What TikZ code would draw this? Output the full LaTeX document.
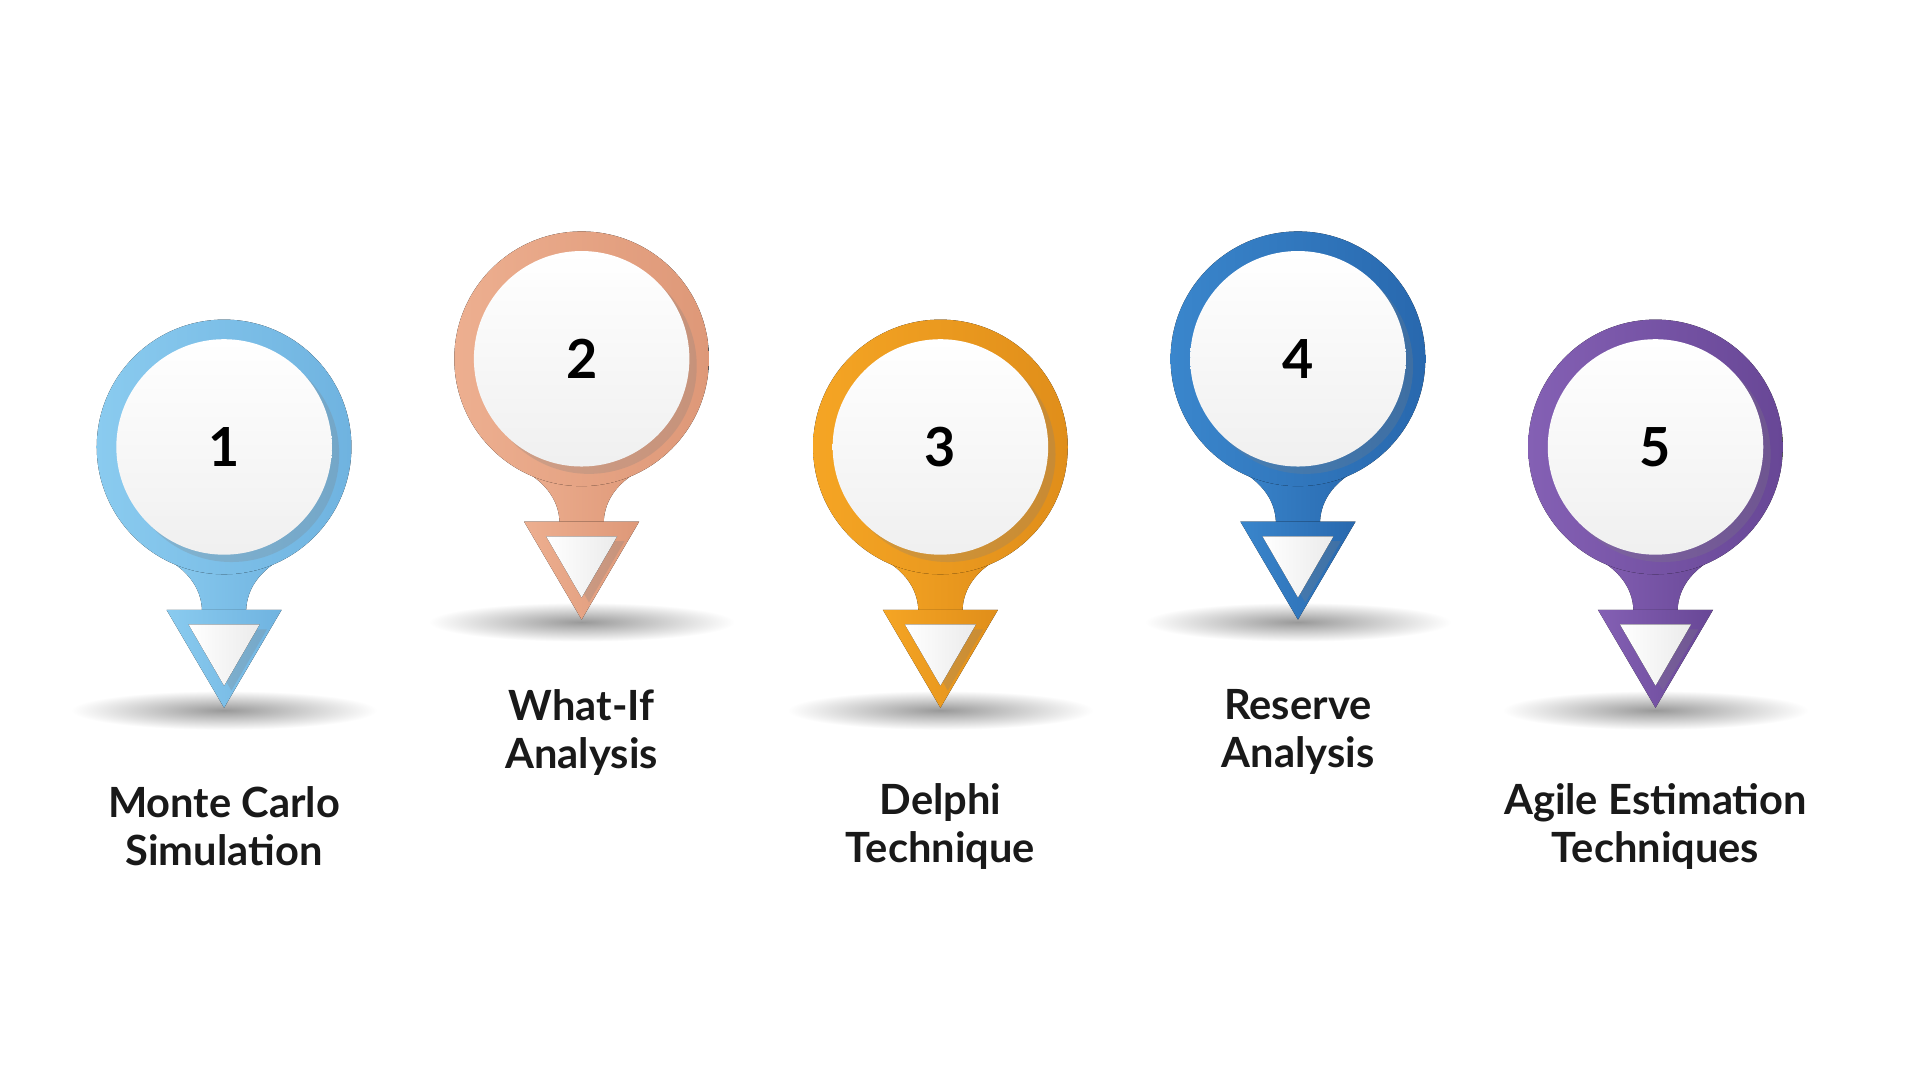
\documentclass[tikz,border=0pt]{standalone}
\usepackage{fontspec}
\setmainfont{Lato}
\usetikzlibrary{shadows}
\definecolor{cA}{HTML}{8ACBEF}\definecolor{cAd}{HTML}{6FB3E0}
\definecolor{cB}{HTML}{EDAF90}\definecolor{cBd}{HTML}{DE9878}
\definecolor{cC}{HTML}{F5A524}\definecolor{cCd}{HTML}{E08E1A}
\definecolor{cD}{HTML}{3A86CC}\definecolor{cDd}{HTML}{2868AE}
\definecolor{cE}{HTML}{8460B4}\definecolor{cEd}{HTML}{684796}
\tikzset{lbl/.style={font=\fontsize{17}{19.5}\selectfont\bfseries,align=center,text=black!90},
num/.style={font=\fontsize{22}{24}\selectfont\bfseries,text=black}}
\begin{document}
\begin{tikzpicture}[x=0.5pt,y=-0.5pt]
\useasboundingbox[fill=white] (0,0) rectangle (1568,882);
\foreach \cx/\cy/\c/\n/\t/\ty in {183/365/cA/1/Monte Carlo\\Simulation/675, 475/293/cB/2/What-If\\Analysis/598, 768/365/cC/3/Delphi\\Technique/675, 1060/293/cD/4/Reserve\\Analysis/598, 1352/365/cE/5/Agile Estimation\\Techniques/675}{
 \shade[inner color=black!40,outer color=white] (\cx,\cy+215) ellipse [x radius=125,y radius=16];
 \fill[left color=\c,right color=\c d] (\cx-58,\cy+86) .. controls (\cx-25,\cy+100) and (\cx-18,\cy+120) .. (\cx-18,\cy+135) -- (\cx+18,\cy+135) .. controls (\cx+18,\cy+120) and (\cx+25,\cy+100) .. (\cx+58,\cy+86) -- cycle;
 \fill[left color=\c,right color=\c d] (\cx-47,\cy+133) -- (\cx+47,\cy+133) -- (\cx,\cy+213) -- cycle;
 \fill[left color=white,right color=black!8,drop shadow={shadow xshift=3pt,shadow yshift=-2pt,opacity=.25}] (\cx-29,\cy+145) -- (\cx+29,\cy+145) -- (\cx,\cy+195) -- cycle;
 \fill[left color=\c,right color=\c d] (\cx,\cy) circle [radius=104];
 \node[circle,minimum size=88pt,inner sep=0pt,top color=white,bottom color=black!6,drop shadow={shadow xshift=3pt,shadow yshift=-3pt,opacity=.25}] (p\n) at (\cx,\cy) {};
 \node[num] (n\n) at (\cx,\cy) {\n};
 \node[lbl] (t\n) at (\cx,\ty) {\t};
}
\end{tikzpicture}
\end{document}
